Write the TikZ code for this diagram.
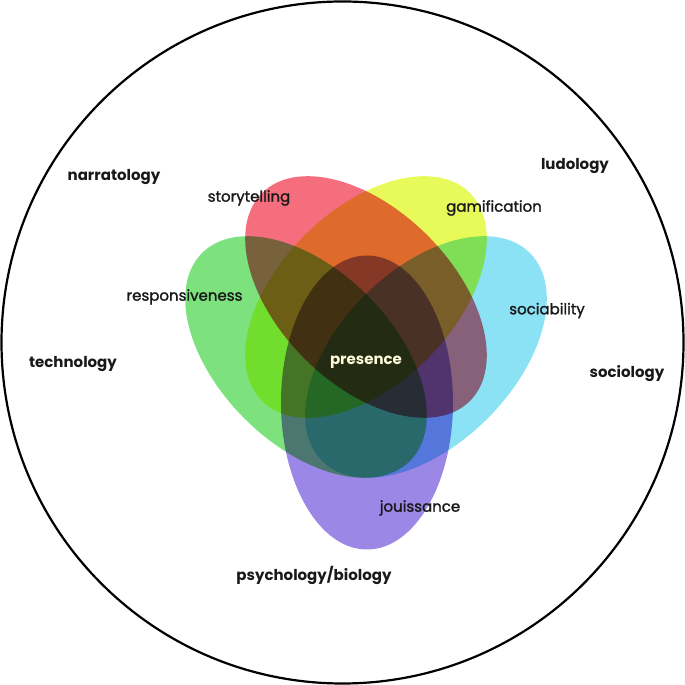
\documentclass[tikz,border=0pt]{standalone}
\usepackage{fontspec}
\setmainfont{Poppins}
\newfontfamily\labelfont{Poppins}[FakeBold=1.5]
\begin{document}
\begin{tikzpicture}[x=1pt,y=1pt]
\useasboundingbox (0,0) rectangle (685,685);
\definecolor{vred}{RGB}{245,110,126}
\definecolor{vyellow}{RGB}{232,250,90}
\definecolor{vgreen}{RGB}{125,226,125}
\definecolor{vcyan}{RGB}{140,226,245}
\definecolor{vpurple}{RGB}{155,135,230}
\definecolor{pres}{RGB}{255,250,215}
\tikzset{
  inner/.style={font=\labelfont\fontsize{15}{17}\selectfont, text=black!90, anchor=base, inner sep=0pt},
  outer/.style={font=\fontsize{15}{17}\selectfont\bfseries, text=black!90, anchor=base, inner sep=0pt},
  petal/.style={draw=none}
}
\draw[line width=2.2pt] (342.5,342.5) circle (341);
\begin{scope}[blend group=multiply]
  \fill[vred, petal, rotate around={-45:(366,388)}] (366,388) ellipse (147 and 87);
  \fill[vyellow, petal, rotate around={45:(366,388)}] (366,388) ellipse (147 and 87);
  \fill[vgreen, petal, rotate around={-45:(306,328)}] (306,328) ellipse (147 and 87);
  \fill[vcyan, petal, rotate around={45:(426,328)}] (426,328) ellipse (147 and 87);
  \fill[vpurple, petal] (367,282.5) ellipse (86 and 147);
\end{scope}
\node[outer] (narr) at (114,504.3) {narratology};
\node[outer] (ludo) at (575,515) {ludology};
\node[outer] (tech) at (73,317.7) {technology};
\node[outer] (soci) at (627,307.7) {sociology};
\node[outer] (psy) at (314,104) {psychology/biology};
\node[inner] (story) at (249,483.3) {storytelling};
\node[inner] (gami) at (494,473.3) {gamification};
\node[inner] (resp) at (184.5,384.3) {responsiveness};
\node[inner] (socia) at (547,370.7) {sociability};
\node[inner] (joui) at (420,173.3) {jouissance};
\node[outer, text=pres] (pres) at (366,320) {presence};
\end{tikzpicture}
\end{document}
